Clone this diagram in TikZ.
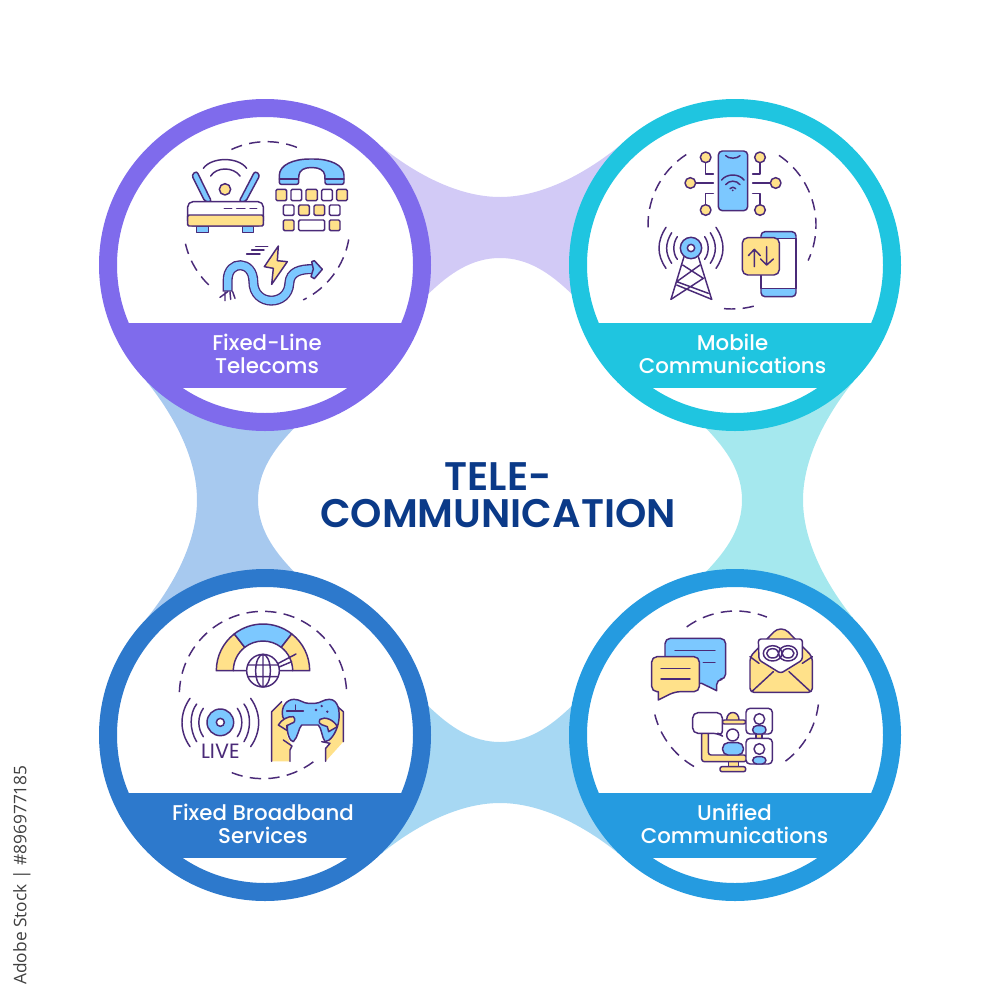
\documentclass[tikz,border=0pt]{standalone}
\usepackage{fontspec}
\setmainfont{Poppins Medium}
\newfontfamily\headfont{Poppins SemiBold}
\newfontfamily\thinfont{Poppins}
\newfontfamily\stampfont{Open Sans}
\usetikzlibrary{backgrounds}

\definecolor{ringviolet}{RGB}{127,107,236}
\definecolor{ringcyan}{RGB}{31,197,224}
\definecolor{ringblue}{RGB}{45,121,204}
\definecolor{ringsky}{RGB}{37,155,224}
\definecolor{linkviolet}{RGB}{210,202,246}
\definecolor{linkblue}{RGB}{167,201,239}
\definecolor{linkcyan}{RGB}{165,232,238}
\definecolor{linksky}{RGB}{167,216,243}
\definecolor{titleblue}{RGB}{11,58,136}
\definecolor{iconink}{RGB}{74,42,120}
\definecolor{iconyel}{RGB}{255,225,138}
\definecolor{iconsky}{RGB}{124,200,255}

\tikzset{
  ringnode/.style={circle,fill=white,line width=13.5pt,minimum size=235.5pt,inner sep=0pt},
  labeltext/.style={text=white,align=center,inner sep=0pt,font=\fontsize{16}{17.25}\selectfont},
  iconline/.style={draw=iconink,line width=1.1pt,line join=round,line cap=round},
  iconyellow/.style={iconline,fill=iconyel},
  iconblue/.style={iconline,fill=iconsky},
  iconwhite/.style={iconline,fill=white},
  dashring/.style={draw=iconink,line width=1.1pt,dash pattern=on 8.5pt off 5.5pt},
}

\begin{document}
\begin{tikzpicture}[x=0.75pt,y=0.75pt,yscale=-1,xscale=1]
\useasboundingbox (0,0) rectangle (1000,1000);

% Ring Node
\draw (265,265) node [ringnode,draw=ringviolet] (fixedline) {};
\draw (735,265) node [ringnode,draw=ringcyan] (mobile) {};
\draw (265,735) node [ringnode,draw=ringblue] (broadband) {};
\draw (735,735) node [ringnode,draw=ringsky] (unified) {};

%Shape: Links between the rings
\begin{scope}[on background layer]
\fill [linkviolet] (fixedline.46) .. controls (410,170) and (455,197) .. (500,197) .. controls (545,197) and (590,170) .. (mobile.134) -- (mobile.190) .. controls (550,273) and (528,258) .. (500,258) .. controls (472,258) and (450,273) .. (fixedline.-10) -- cycle ;
\fill [linkblue] (fixedline.224) .. controls (170,410) and (197,455) .. (197,500) .. controls (197,545) and (170,590) .. (broadband.136) -- (broadband.80) .. controls (273,550) and (258,528) .. (258,500) .. controls (258,472) and (273,450) .. (fixedline.-80) -- cycle ;
\fill [linkcyan] (mobile.-44) .. controls (830,410) and (803,455) .. (803,500) .. controls (803,545) and (830,590) .. (unified.44) -- (unified.100) .. controls (727,550) and (742,528) .. (742,500) .. controls (742,472) and (727,450) .. (mobile.-100) -- cycle ;
\fill [linksky] (broadband.-46) .. controls (410,830) and (455,803) .. (500,803) .. controls (545,803) and (590,830) .. (unified.-134) -- (unified.170) .. controls (550,727) and (528,742) .. (500,742) .. controls (472,742) and (450,727) .. (broadband.10) -- cycle ;
\end{scope}

%Shape: Label bands
\begin{scope}
\clip (265,265) circle (150);
\fill [ringviolet] (110,323) rectangle (420,387.5);
\end{scope}
\begin{scope}
\clip (735,265) circle (150);
\fill [ringcyan] (580,323) rectangle (890,387.5);
\end{scope}
\begin{scope}
\clip (265,735) circle (150);
\fill [ringblue] (110,793) rectangle (420,857.5);
\end{scope}
\begin{scope}
\clip (735,735) circle (150);
\fill [ringsky] (580,793) rectangle (890,857.5);
\end{scope}

% Text Node
\draw (267,353.5) node [labeltext] (fixedlabel) {Fixed-Line\\Telecoms};
% Text Node
\draw (732.5,353.5) node [labeltext] (mobilelabel) {Mobile\\Communications};
% Text Node
\draw (263,823.5) node [labeltext] (broadbandlabel) {Fixed Broadband\\Services};
% Text Node
\draw (734.5,823.5) node [labeltext] (unifiedlabel) {Unified\\Communications};
% Text Node
\draw (498,495) node [inner sep=0pt,align=center,text=titleblue,font=\headfont\fontsize{29.9}{27.75}\selectfont] (title) {TELE-\\COMMUNICATION};
% Text Node
\draw (22,875) node [rotate=90,inner sep=0pt,text=black!75,font=\stampfont\fontsize{13}{15}\selectfont] (stamp) {Adobe Stock | \#896977185};

%Icons: fixed line
\begin{scope}[shift={(90,90)},x=0.25pt,y=0.25pt]
\draw [dashring] (530,405) ++(-115:250) arc [start angle=-115,end angle=-65,radius=250];
\draw [dashring] (530,405) ++(10:250) arc [start angle=10,end angle=64,radius=250];
\draw [dashring] (530,405) ++(134:250) arc [start angle=134,end angle=167,radius=250];
% router
\draw [iconblue] (320,408) rectangle (355,427) (457,408) rectangle (490,427);
\draw [iconblue,rounded corners=2pt] (305,255) -- (320,243) -- (365,335) -- (345,335) -- cycle;
\draw [iconblue,rounded corners=2pt] (510,255) -- (495,243) -- (447,335) -- (467,335) -- cycle;
\draw [iconyellow] (405,298) circle (17);
\draw [iconline] (340,235) .. controls (365,200) and (445,200) .. (470,235);
\draw [iconline] (362,258) .. controls (380,230) and (430,230) .. (450,258);
\draw [iconwhite,rounded corners=4pt] (293,408) rectangle (520,335);
\draw [iconyellow,rounded corners=1pt] (293,375) rectangle (520,408);
\draw [iconline] (403,355) -- (425,355) (440,355) -- (465,355) (480,355) -- (500,355);
% handset
\draw [iconblue,rounded corners=1.5pt] (568,283) -- (568,262) .. controls (568,225) and (610,207) .. (665,207) .. controls (720,207) and (762,225) .. (762,262) -- (762,283) -- (705,283) -- (705,262) .. controls (703,240) and (685,233) .. (665,233) .. controls (645,233) and (628,240) .. (626,262) -- (626,283) -- cycle;
\draw [iconline] (568,267) -- (625,267) (705,267) -- (762,267);
% keypad
\draw [iconyellow,rounded corners=1pt] (558,298) rectangle (590,332) (648,298) rectangle (682,332) (740,298) rectangle (772,332) (626,345) rectangle (658,376) (672,345) rectangle (704,376) (580,390) rectangle (612,422) (718,390) rectangle (750,422);
\draw [iconwhite,rounded corners=1pt] (603,298) rectangle (635,332) (695,298) rectangle (727,332) (580,345) rectangle (612,376) (718,345) rectangle (750,376) (626,390) rectangle (704,422);
% cable
\draw [draw=iconink,line width=7.5pt] (413,605) -- (413,570) .. controls (413,510) and (490,510) .. (490,575) .. controls (490,650) and (595,650) .. (598,580) .. controls (600,545) and (630,537) .. (670,537);
\draw [draw=iconsky,line width=5.5pt] (413,601) -- (413,570) .. controls (413,510) and (490,510) .. (490,575) .. controls (490,650) and (595,650) .. (598,580) .. controls (600,545) and (630,537) .. (672,537);
\draw [iconblue] (665,515) -- (673,512) -- (697,538) -- (673,566) -- (663,560) -- (670,537) -- cycle;
\draw [iconyellow] (565,468) -- (523,530) -- (550,535) -- (545,583) -- (592,515) -- (562,512) -- cycle;
\draw [iconline] (497,470) -- (533,470) (485,480) -- (522,480) (470,492) -- (510,492);
\draw [iconline] (413,605) -- (390,622) (405,606) -- (405,632) (420,606) -- (422,628) (428,605) -- (435,625);
\end{scope}

%Icons: mobile
\begin{scope}[shift={(560,90)},x=0.25pt,y=0.25pt]
\draw [dashring] (516,405) ++(-123:252) arc [start angle=-123,end angle=-186,radius=252];
\draw [dashring] (516,405) ++(-56:252) arc [start angle=-56,end angle=25,radius=252];
\draw [dashring] (516,405) ++(75:252) arc [start angle=75,end angle=96,radius=252];
% phone and circuit
\draw [iconline] (437,218) -- (437,252) -- (460,252) (600,218) -- (600,252) -- (578,252) (407,279) -- (460,279) (631,279) -- (578,279) (437,344) -- (437,310) -- (460,310) (600,344) -- (600,310) -- (578,310);
\draw [iconblue,rounded corners=3pt] (475,183) rectangle (563,362);
\draw [iconline] (497,197) .. controls (505,207) and (532,207) .. (540,197);
\draw [iconline] (485,270) .. controls (500,250) and (537,250) .. (552,270);
\draw [iconline] (497,284) .. controls (507,270) and (530,270) .. (540,284);
\draw [iconline] (510,296) .. controls (514,290) and (523,290) .. (527,296);
\fill [iconink] (518,301) circle (3);
\draw [iconyellow] (437,202) circle (16) (600,202) circle (16) (391,279) circle (16) (647,279) circle (16) (437,360) circle (16) (600,360) circle (16);
% tower
\draw [iconline] (372,500) -- (333,628) (415,500) -- (455,628);
\draw [iconline] (368,525) -- (430,565) (420,525) -- (350,575) -- (445,610) (430,565) -- (333,628) (455,628) -- (350,585);
\draw [iconblue] (393,474) circle (32);
\draw [iconwhite] (393,474) circle (11);
\draw [iconline] (318,412) .. controls (290,455) and (290,495) .. (318,535) (335,428) .. controls (315,460) and (315,490) .. (335,520) (352,440) .. controls (338,460) and (338,490) .. (352,508);
\draw [iconline] (468,412) .. controls (496,455) and (496,495) .. (468,535) (451,428) .. controls (471,460) and (471,490) .. (451,520) (434,440) .. controls (448,460) and (448,490) .. (434,508);
% second phone
\draw [iconblue,rounded corners=3pt] (603,425) rectangle (708,620);
\draw [iconwhite] (603,446) rectangle (708,595);
\draw [iconyellow,rounded corners=4pt] (547,443) rectangle (658,555);
\draw [iconline] (583,530) -- (583,478) (565,497) -- (583,478) -- (601,497) (620,470) -- (620,525) (602,507) -- (620,525) -- (640,507);
\end{scope}

%Icons: broadband
\begin{scope}[shift={(90,560)},x=0.25pt,y=0.25pt]
\draw [dashring] (519,405) ++(-178:251) arc [start angle=-178,end angle=0,radius=251];
\draw [dashring] (519,405) ++(53:251) arc [start angle=53,end angle=115,radius=251];
% gauge
\draw [iconyellow] (379,332) arc [start angle=-180,end angle=-128,radius=140] -- (464.2,261.9) arc [start angle=-128,end angle=-180,radius=89] -- cycle;
\draw [iconblue] (432.8,221.7) arc [start angle=-128,end angle=-52,radius=140] -- (573.8,261.9) arc [start angle=-52,end angle=-128,radius=89] -- cycle;
\draw [iconyellow] (605.2,221.7) arc [start angle=-52,end angle=0,radius=140] -- (608,332) arc [start angle=0,end angle=-52,radius=89] -- cycle;
\draw [iconline] (430,332) -- (608,332) (565,310) -- (618,282) (565,322) -- (605,305);
\draw [iconwhite] (519,332) circle (49);
\draw [iconline] (519,332) ellipse (22 and 49) (519,283) -- (519,381) (473,315) -- (565,315) (473,350) -- (565,350);
% live disc
\draw [iconblue] (391,487) circle (40);
\draw [iconwhite] (391,487) circle (12);
\draw [iconline] (340,445) .. controls (322,470) and (322,505) .. (340,530) (320,432) .. controls (298,460) and (298,510) .. (320,545) (300,415) .. controls (268,460) and (268,515) .. (300,560);
\draw [iconline] (442,445) .. controls (460,470) and (460,505) .. (442,530) (462,432) .. controls (484,460) and (484,510) .. (462,545) (482,415) .. controls (514,460) and (514,515) .. (482,560);
\draw (391,575) node [inner sep=0pt,text=iconink,font=\thinfont\fontsize{15.5}{17}\selectfont] (live) {LIVE};
% game pad
\fill [iconyel] (545,604) -- (545,455) -- (575,425) -- (590,470) -- (592,530) -- (606,558) -- (600,570) -- (600,604) -- cycle;
\draw [iconline] (545,604) -- (545,455) -- (575,425) (580,540) -- (606,558) -- (600,570) -- (600,604);
\fill [iconyel] (707,604) -- (707,565) -- (720,550) -- (712,530) -- (715,470) -- (725,425) -- (760,455) -- (760,545) -- cycle;
\draw [iconline] (707,604) -- (707,565) -- (720,550) -- (695,545) (725,425) -- (760,455) -- (760,545);
\draw [iconblue] (578,470) .. controls (572,440) and (590,418) .. (612,418) .. controls (630,418) and (640,430) .. (655,430) -- (675,430) .. controls (690,430) and (700,418) .. (718,418) .. controls (745,418) and (752,455) .. (745,490) .. controls (738,520) and (720,545) .. (705,545) .. controls (695,530) and (695,505) .. (685,495) -- (635,495) .. controls (625,505) and (625,530) .. (610,545) .. controls (600,545) and (590,520) .. (592,495) -- cycle;
\draw [iconyellow] (565,495) .. controls (575,478) and (595,468) .. (610,470) .. controls (618,478) and (615,488) .. (605,490) -- (590,497) -- (592,512) -- cycle;
\draw [iconyellow] (742,500) .. controls (732,480) and (705,468) .. (690,478) .. controls (685,488) and (690,492) .. (695,494) -- (712,500) -- (716,515) -- cycle;
\draw [iconline] (590,453) -- (640,453) (617,435) -- (617,453);
\fill [iconink] (678,450) circle (4) (695,438) circle (4) (712,455) circle (4);
\end{scope}

%Icons: unified
\begin{scope}[shift={(560,560)},x=0.25pt,y=0.25pt]
\draw [dashring] (527,403) ++(-126:250) arc [start angle=-126,end angle=-68,radius=250];
\draw [dashring] (527,403) ++(120:250) arc [start angle=120,end angle=166,radius=250];
\draw [dashring] (527,403) ++(7:250) arc [start angle=7,end angle=54,radius=250];
% speech bubbles
\draw [iconblue,rounded corners=4pt] (315,235) -- (497,235) -- (497,358) -- (470,358) [sharp corners] -- (470,392) -- (425,370) [rounded corners=4pt] -- (315,370) -- cycle;
\draw [iconline] (345,272) -- (465,272) (430,308) -- (465,308);
\draw [iconyellow,rounded corners=4pt] (275,290) -- (418,290) -- (418,395) -- (345,395) [sharp corners] -- (295,420) -- (295,395) [rounded corners=4pt] -- (275,395) -- cycle;
\draw [iconline] (303,325) -- (390,325) (303,357) -- (390,357);
% envelope
\draw [iconyellow,rounded corners=3pt] (570,290) -- (650,207) -- (676,207) -- (757,290) -- (757,397) -- (570,397) -- cycle;
\draw [iconwhite,rounded corners=2pt] (595,237) -- (727,237) -- (727,300) -- (662,340) -- (597,300) -- cycle;
\draw [iconline] (570,290) -- (597,310) (757,290) -- (727,310) (575,395) -- (640,335) (752,395) -- (687,335);
\draw [iconline] (638,280) ellipse (28 and 23) (638,280) ellipse (18 and 14) (684,280) ellipse (28 and 23) (684,280) ellipse (18 and 14);
% video call
\draw [iconyellow] (505,605) rectangle (535,622);
\draw [iconyellow,rounded corners=1.5pt] (480,620) rectangle (557,635);
\draw [iconyellow,rounded corners=2pt] (425,515) -- (445,515) -- (445,585) -- (560,585) -- (560,605) -- (425,605) -- cycle;
\draw [iconyellow] (500,480) .. controls (500,450) and (537,450) .. (537,480);
\draw [iconyellow,rounded corners=1.5pt] (487,480) rectangle (557,492);
\draw [iconyellow] (588,520) rectangle (606,537);
\draw [iconwhite,rounded corners=4pt] (398,458) -- (487,458) -- (487,528) -- (474,520) -- (398,520) -- cycle;
\draw [iconblue,rounded corners=4pt] (488,585) -- (488,548) -- (550,548) -- (550,585) -- cycle;
\draw [iconwhite] (518,525) circle (18);
\draw [iconwhite,rounded corners=3pt] (558,445) rectangle (637,522);
\draw [iconblue,rounded corners=3pt] (578,522) -- (578,497) -- (618,497) -- (618,522) -- cycle;
\draw [iconwhite] (598,477) circle (16);
\draw [iconwhite,rounded corners=3pt] (558,535) rectangle (637,612);
\draw [iconblue,rounded corners=3pt] (578,612) -- (578,590) -- (618,590) -- (618,612) -- cycle;
\draw [iconwhite] (598,567) circle (16);
\end{scope}

\end{tikzpicture}
\end{document}
